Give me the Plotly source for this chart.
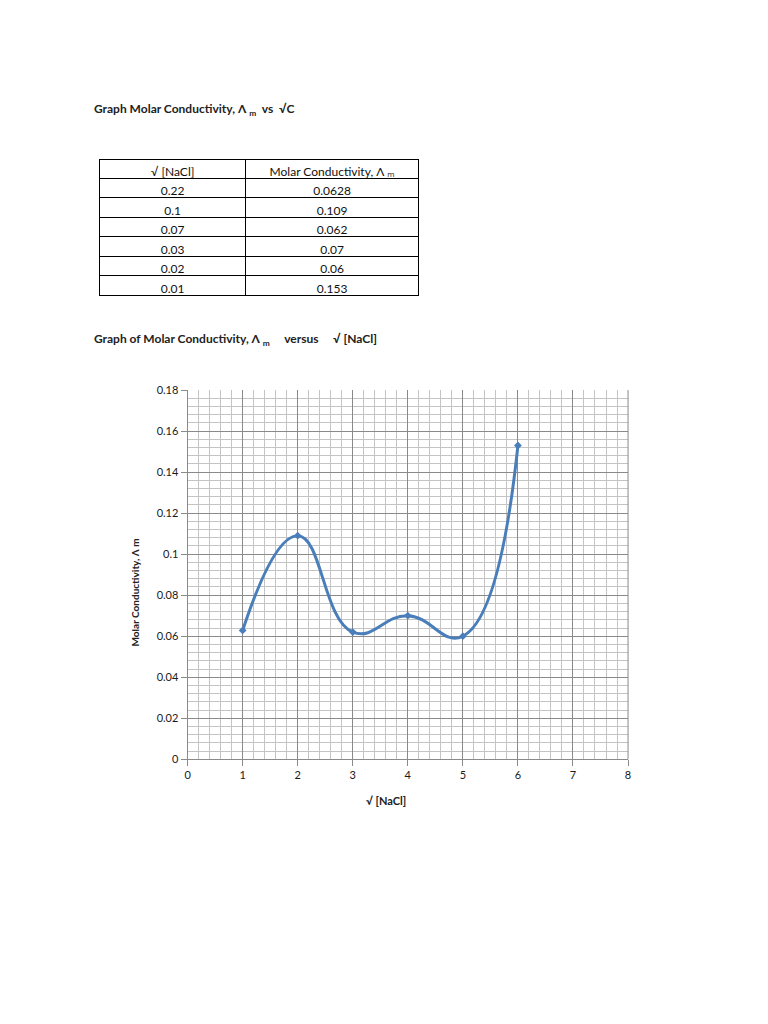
import plotly.graph_objects as go

# chart data
x_vals = [1, 2, 3, 4, 5, 6]
y_vals = [0.0628, 0.109, 0.062, 0.07, 0.06, 0.153]

# table data
table_conc = ["0.22", "0.1", "0.07", "0.03", "0.02", "0.01"]
table_cond = ["0.0628", "0.109", "0.062", "0.07", "0.06", "0.153"]
table_header = ["√ [NaCl]", "Molar Conductivity, Λ ₘ"]

# page is 768x1024; the html body adds an 8px margin on each side
PAD = 8
W, H = 768 - 2 * PAD, 1024 - 2 * PAD
FONT = "Lato, 'Open Sans', sans-serif"


def px_x(p):
    return (p - PAD) / W


def px_y(p):
    return 1 - (p - PAD) / H


fig = go.Figure()

fig.add_trace(go.Scatter(
    x=x_vals, y=y_vals,
    mode="lines+markers",
    line=dict(color="#4a7ebb", width=3, shape="spline", smoothing=1.3),
    marker=dict(symbol="diamond", size=6, color="#4a7ebb"),
    showlegend=False,
))

fig.add_trace(go.Table(
    domain=dict(x=[px_x(97), px_x(419)], y=[px_y(330), px_y(154)]),
    columnwidth=[148, 174],
    header=dict(
        values=table_header,
        height=19,
        align="center",
        line=dict(color="black", width=1),
        fill=dict(color="white"),
        font=dict(family=FONT, size=12, color="#111"),
    ),
    cells=dict(
        values=[table_conc, table_cond],
        height=19.5,
        align="center",
        line=dict(color="black", width=1),
        fill=dict(color="white"),
        font=dict(family=FONT, size=12, color="#111"),
    ),
))

grid_major = "#8a8a8a"
grid_minor = "#c4c4c4"

fig.update_layout(
    width=W, height=H,
    margin=dict(l=0, r=0, t=0, b=0),
    paper_bgcolor="white",
    plot_bgcolor="white",
    font=dict(family=FONT, color="#222"),
    xaxis=dict(
        domain=[px_x(186), px_x(630)],
        range=[0, 8],
        dtick=1,
        showgrid=True,
        gridcolor=grid_major,
        gridwidth=1,
        minor=dict(dtick=0.2, showgrid=True, gridcolor=grid_minor, gridwidth=1),
        showline=True, linecolor=grid_major, linewidth=1,
        ticks="outside", ticklen=6, tickcolor=grid_major,
        tickfont=dict(size=11, color="#1a1a1a"),
        zeroline=False,
    ),
    yaxis=dict(
        domain=[px_y(762), px_y(388)],
        range=[0, 0.18],
        dtick=0.02,
        tickformat="~g",
        showgrid=True,
        gridcolor=grid_major,
        gridwidth=1,
        minor=dict(dtick=0.004, showgrid=True, gridcolor=grid_minor, gridwidth=1),
        showline=True, linecolor=grid_major, linewidth=1,
        ticks="outside", ticklen=6, tickcolor=grid_major,
        tickfont=dict(size=11, color="#1a1a1a"),
        zeroline=False,
    ),
    annotations=[
        dict(
            text="<b>Graph Molar Conductivity, Λ <sub>m</sub>  vs  √C</b>",
            x=px_x(90), y=px_y(104), xref="paper", yref="paper",
            xanchor="left", yanchor="middle", showarrow=False,
            font=dict(size=12, color="#222"),
        ),
        dict(
            text="<b>Graph of Molar Conductivity, Λ <sub>m</sub>     versus     √ [NaCl]</b>",
            x=px_x(90), y=px_y(337), xref="paper", yref="paper",
            xanchor="left", yanchor="middle", showarrow=False,
            font=dict(size=12, color="#222"),
        ),
        # axis titles (offset from the plot centre, as in the source chart)
        dict(
            text="<b>Molar Conductivity, Λ m</b>", textangle=-90,
            x=px_x(133), y=px_y(593), xref="paper", yref="paper",
            xanchor="center", yanchor="middle", showarrow=False,
            font=dict(size=10, color="#222"),
        ),
        dict(
            text="<b>√ [NaCl]</b>",
            x=px_x(386), y=px_y(804), xref="paper", yref="paper",
            xanchor="center", yanchor="middle", showarrow=False,
            font=dict(size=11, color="#222"),
        ),
    ],
)

# right border of plot area
fig.add_shape(type="line", xref="paper", yref="paper",
              x0=px_x(630), x1=px_x(630), y0=px_y(762), y1=px_y(388),
              line=dict(color=grid_major, width=1))

fig.write_html("out.html")
